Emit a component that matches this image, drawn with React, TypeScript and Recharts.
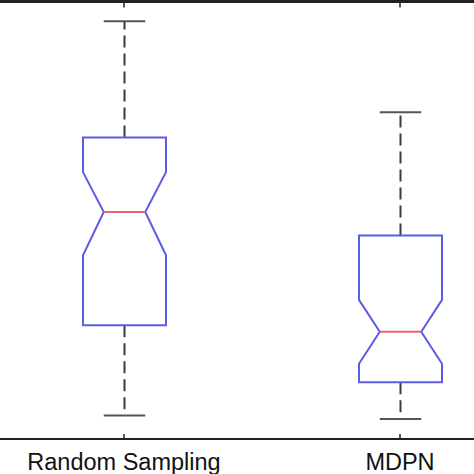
import React from 'react';
import { ComposedChart, Bar, XAxis, YAxis } from 'recharts';

const categories = ['Random Sampling', 'MDPN'];
const whiskerLow = [5.4, 4.6];
const q1 = [26.0, 13.0];
const notchLow = [42.0, 17.2];
const median = [51.9, 24.5];
const notchHigh = [61.0, 31.8];
const q3 = [68.9, 46.5];
const whiskerHigh = [95.5, 74.7];

const data = categories.map((name, i) => ({
  name,
  range: [whiskerLow[i], whiskerHigh[i]],
  q1: q1[i],
  notchLow: notchLow[i],
  median: median[i],
  notchHigh: notchHigh[i],
  q3: q3[i],
}));

const BOX = '#5c5ce4';
const MED = '#e8646c';
const WHISK = '#3a3a3a';

function BoxShape(props: any) {
  const { x, y, width, height, payload } = props;
  const lo = payload.range[0];
  const hi = payload.range[1];
  const py = (v: number) => y + ((hi - v) / (hi - lo)) * height;
  const cx = x + width / 2;
  const hw = width / 2;
  const nw = width / 4;
  const cw = width / 4;
  const d = [
    `M${cx - hw},${py(payload.q3)}`,
    `L${cx + hw},${py(payload.q3)}`,
    `L${cx + hw},${py(payload.notchHigh)}`,
    `L${cx + nw},${py(payload.median)}`,
    `L${cx + hw},${py(payload.notchLow)}`,
    `L${cx + hw},${py(payload.q1)}`,
    `L${cx - hw},${py(payload.q1)}`,
    `L${cx - hw},${py(payload.notchLow)}`,
    `L${cx - nw},${py(payload.median)}`,
    `L${cx - hw},${py(payload.notchHigh)}`,
    'Z',
  ].join(' ');
  return (
    <g>
      <line x1={cx} x2={cx} y1={py(payload.q3)} y2={py(hi)} stroke={WHISK} strokeWidth={2} strokeDasharray="12 6" />
      <line x1={cx} x2={cx} y1={py(payload.q1)} y2={py(lo)} stroke={WHISK} strokeWidth={2} strokeDasharray="12 6" />
      <line x1={cx - cw} x2={cx + cw} y1={py(hi)} y2={py(hi)} stroke="#555" strokeWidth={2} />
      <line x1={cx - cw} x2={cx + cw} y1={py(lo)} y2={py(lo)} stroke="#555" strokeWidth={2} />
      <path d={d} fill="none" stroke={BOX} strokeWidth={2} strokeLinejoin="miter" />
      <line x1={cx - nw} x2={cx + nw} y1={py(payload.median)} y2={py(payload.median)} stroke={MED} strokeWidth={2} />
    </g>
  );
}

function BottomTick(props: any) {
  const { x, y, payload } = props;
  return (
    <g>
      <line x1={x} x2={x} y1={y} y2={y - 5} stroke="#222" strokeWidth={1.5} />
      <text
        x={x}
        y={y + 31}
        textAnchor="middle"
        fontFamily="'Liberation Sans', Arial, sans-serif"
        fontSize={23.5}
        fill="#111"
      >
        {payload.value}
      </text>
    </g>
  );
}

function TopTick(props: any) {
  const { x, y } = props;
  return <line x1={x} x2={x} y1={y} y2={y + 6} stroke="#222" strokeWidth={1.5} />;
}

export default function App() {
  return (
    <div
      style={{
        position: 'fixed',
        left: 0,
        top: 0,
        width: 474,
        height: 474,
        overflow: 'hidden',
        background: '#fff',
      }}
    >
      <div style={{ position: 'absolute', left: -14, top: 0 }}>
        <ComposedChart
          width={552}
          height={474}
          data={data}
          margin={{ top: 0.5, right: 0, bottom: 0, left: 0 }}
          barCategoryGap={0}
        >
          <XAxis
            dataKey="name"
            height={35}
            axisLine={{ stroke: '#222', strokeWidth: 2 }}
            tickLine={false}
            tickSize={0}
            tickMargin={0}
            tick={<BottomTick />}
            interval={0}
          />
          <XAxis
            xAxisId="top"
            orientation="top"
            dataKey="name"
            height={1}
            axisLine={{ stroke: '#222', strokeWidth: 3 }}
            tickLine={false}
            tickSize={0}
            tickMargin={0}
            tick={<TopTick />}
            interval={0}
          />
          <YAxis hide type="number" domain={[0, 100]} />
          <Bar dataKey="range" barSize={83} shape={<BoxShape />} isAnimationActive={false} />
        </ComposedChart>
      </div>
    </div>
  );
}
